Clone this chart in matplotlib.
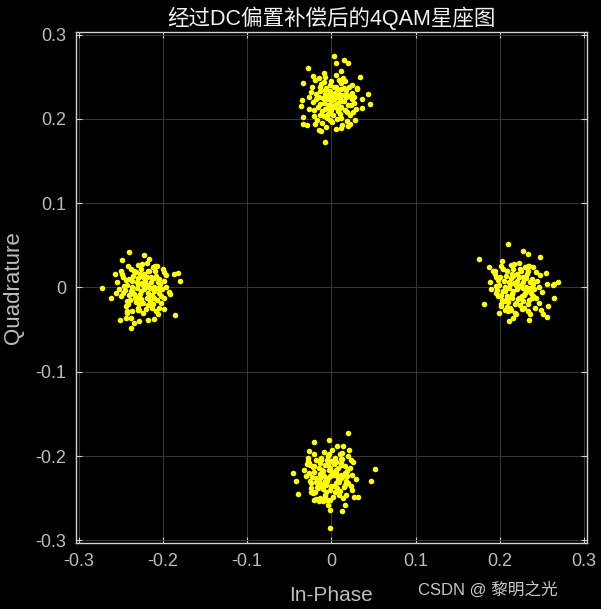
import matplotlib
matplotlib.use("Agg")
import matplotlib.pyplot as plt

# received symbols after DC offset compensation (I, Q)
top_pts = [
    (0.0036, 0.275), (0.005, 0.266), (0.0155, 0.270), (0.020, 0.266), (-0.028, 0.260),
    (-0.022, 0.251), (-0.0087, 0.254), (0.012, 0.257), (0.034, 0.250), (0.043, 0.229),
    (0.046, 0.217), (0.036, 0.223), (0.036, 0.213), (-0.034, 0.243), (-0.035, 0.222),
    (-0.036, 0.215), (-0.033, 0.202), (-0.034, 0.194), (-0.029, 0.193), (-0.015, 0.187),
    (-0.007, 0.173), (0.012, 0.189), (0.0225, 0.194), (0.028, 0.199), (0.031, 0.235),
    (-0.018, 0.230), (-0.012, 0.241), (-0.006, 0.236), (0.000, 0.245), (0.006, 0.238),
    (0.012, 0.243), (0.018, 0.234), (0.024, 0.240), (-0.022, 0.220), (-0.015, 0.226),
    (-0.009, 0.219), (-0.003, 0.228), (0.003, 0.224), (0.009, 0.229), (0.015, 0.221),
    (0.021, 0.227), (0.027, 0.219), (-0.020, 0.210), (-0.014, 0.205), (-0.008, 0.212),
    (-0.002, 0.207), (0.004, 0.214), (0.010, 0.206), (0.016, 0.211), (0.022, 0.204),
    (-0.017, 0.199), (-0.011, 0.195), (-0.005, 0.201), (0.001, 0.196), (0.007, 0.200),
    (0.013, 0.193), (0.019, 0.198), (-0.024, 0.232), (-0.019, 0.246), (-0.007, 0.250),
    (0.005, 0.252), (0.014, 0.249), (0.025, 0.231), (0.029, 0.212), (-0.026, 0.212),
    (-0.013, 0.233), (-0.001, 0.233), (0.011, 0.235), (0.020, 0.216), (-0.004, 0.216),
    (0.008, 0.219), (-0.010, 0.225), (0.017, 0.226), (0.002, 0.204), (-0.006, 0.190),
    (0.000, 0.221), (0.006, 0.226), (-0.003, 0.212), (0.012, 0.214), (-0.016, 0.214),
    (-0.021, 0.203), (0.024, 0.223), (0.003, 0.238), (-0.009, 0.244), (0.009, 0.246),
    (-0.014, 0.238), (0.015, 0.236), (-0.002, 0.199), (0.020, 0.192), (0.005, 0.188),
    (-0.012, 0.186), (0.026, 0.208), (-0.027, 0.226), (0.030, 0.236), (-0.008, 0.229),
    (0.004, 0.231), (0.013, 0.221), (-0.005, 0.224), (0.008, 0.209), (-0.018, 0.223),
    (0.019, 0.208), (0.001, 0.215), (-0.011, 0.209), (0.011, 0.201), (0.023, 0.216),
    (-0.023, 0.238), (-0.001, 0.240), (0.007, 0.235), (0.016, 0.245), (-0.015, 0.248),
    (-0.004, 0.206), (0.010, 0.224), (0.002, 0.228), (-0.007, 0.234), (0.018, 0.229),
    (0.006, 0.218), (-0.002, 0.225), (0.014, 0.228), (-0.009, 0.203), (-0.019, 0.194),
    (0.021, 0.238), (0.000, 0.211), (-0.013, 0.217), (0.009, 0.212), (0.027, 0.226),
]

left_pts = [
    (-0.272, -0.001), (-0.240, 0.042), (-0.222, 0.039), (-0.216, 0.034), (-0.249, 0.032),
    (-0.257, 0.016), (-0.182, 0.017), (-0.180, 0.008), (-0.187, 0.016), (-0.261, -0.012),
    (-0.256, -0.006), (-0.185, -0.033), (-0.192, -0.0075), (-0.251, -0.038), (-0.244, -0.036),
    (-0.238, -0.036), (-0.243, -0.028), (-0.238, -0.048), (-0.2345, -0.042), (-0.2286, -0.040),
    (-0.218, -0.039), (-0.210, -0.0376), (-0.206, -0.032), (-0.198, -0.025), (-0.228, -0.027),
    (-0.240, 0.010), (-0.232, 0.018), (-0.224, 0.012), (-0.216, 0.020), (-0.208, 0.014),
    (-0.200, 0.022), (-0.246, 0.002), (-0.238, -0.004), (-0.230, 0.004), (-0.222, -0.002),
    (-0.214, 0.006), (-0.206, -0.001), (-0.198, 0.008), (-0.250, -0.010), (-0.242, -0.016),
    (-0.234, -0.008), (-0.226, -0.014), (-0.218, -0.006), (-0.210, -0.012), (-0.202, -0.018),
    (-0.244, -0.022), (-0.236, -0.028), (-0.228, -0.020), (-0.220, -0.026), (-0.212, -0.019),
    (-0.204, -0.024), (-0.248, 0.016), (-0.241, 0.025), (-0.229, 0.027), (-0.219, 0.029),
    (-0.207, 0.026), (-0.196, 0.015), (-0.193, -0.005), (-0.252, -0.002), (-0.237, 0.008),
    (-0.225, 0.005), (-0.211, 0.000), (-0.219, 0.013), (-0.233, -0.012), (-0.215, -0.016),
    (-0.226, 0.022), (-0.244, 0.009), (-0.203, 0.004), (-0.209, 0.019), (-0.231, -0.001),
    (-0.221, 0.008), (-0.227, -0.008), (-0.213, -0.009), (-0.239, -0.015), (-0.223, -0.018),
    (-0.205, -0.007), (-0.247, -0.007), (-0.235, 0.014), (-0.217, 0.003), (-0.229, 0.011),
    (-0.199, -0.013), (-0.254, 0.006), (-0.243, -0.030), (-0.224, -0.030), (-0.208, -0.028),
    (-0.212, 0.024), (-0.230, -0.024), (-0.196, 0.000), (-0.250, 0.020), (-0.236, 0.001),
    (-0.218, -0.021), (-0.232, -0.017), (-0.204, 0.010), (-0.222, 0.016), (-0.240, -0.009),
    (-0.214, 0.012), (-0.226, -0.004), (-0.210, -0.004), (-0.234, 0.020), (-0.220, 0.000),
    (-0.245, -0.003), (-0.202, -0.010), (-0.228, -0.012), (-0.216, -0.010), (-0.238, 0.022),
    (-0.206, 0.006), (-0.225, 0.028), (-0.213, -0.024), (-0.241, -0.020), (-0.199, 0.018),
    (-0.231, 0.006), (-0.219, -0.013), (-0.211, 0.011), (-0.236, -0.004), (-0.223, 0.003),
    (-0.247, 0.012), (-0.207, -0.015), (-0.229, -0.027), (-0.217, 0.019), (-0.201, -0.002),
    (-0.243, 0.003), (-0.227, 0.016), (-0.215, -0.001), (-0.233, -0.010), (-0.209, 0.025),
]

right_pts = [
    (0.2096, 0.0514), (0.1756, 0.0333), (0.1807, -0.0194), (0.227, 0.0428), (0.2337, 0.040),
    (0.2476, 0.036), (0.2550, 0.017), (0.269, 0.0063), (0.2645, 0.0044), (0.263, 0.0024),
    (0.2649, -0.0122), (0.257, -0.022), (0.256, -0.035), (0.249, -0.027), (0.251, -0.031),
    (0.235, -0.038), (0.236, -0.031), (0.2115, -0.040), (0.216, -0.036), (0.219, -0.031),
    (0.206, -0.027), (0.208, -0.023), (0.1874, 0.024), (0.1945, 0.019), (0.203, 0.031),
    (0.256, 0.0044),
    (0.200, 0.012), (0.208, 0.020), (0.216, 0.014), (0.224, 0.022), (0.232, 0.016),
    (0.240, 0.024), (0.196, 0.002), (0.204, -0.004), (0.212, 0.004), (0.220, -0.002),
    (0.228, 0.006), (0.236, -0.001), (0.244, 0.008), (0.198, -0.010), (0.206, -0.016),
    (0.214, -0.008), (0.222, -0.014), (0.230, -0.006), (0.238, -0.012), (0.246, -0.018),
    (0.202, -0.022), (0.210, -0.028), (0.218, -0.020), (0.226, -0.026), (0.234, -0.019),
    (0.242, -0.024), (0.194, 0.016), (0.201, 0.025), (0.213, 0.027), (0.223, 0.029),
    (0.235, 0.026), (0.248, 0.015), (0.250, -0.005), (0.190, -0.002), (0.205, 0.008),
    (0.217, 0.005), (0.231, 0.000), (0.223, 0.013), (0.209, -0.012), (0.227, -0.016),
    (0.216, 0.022), (0.198, 0.009), (0.239, 0.004), (0.233, 0.019), (0.211, -0.001),
    (0.221, 0.008), (0.215, -0.008), (0.229, -0.009), (0.203, -0.015), (0.219, -0.018),
    (0.237, -0.007), (0.195, -0.007), (0.207, 0.014), (0.225, 0.003), (0.213, 0.011),
    (0.243, -0.013), (0.188, 0.006), (0.199, -0.030), (0.218, -0.030), (0.234, -0.028),
    (0.230, 0.024), (0.212, -0.024), (0.246, 0.000), (0.192, 0.020), (0.206, 0.001),
    (0.224, -0.021), (0.210, -0.017), (0.238, 0.010), (0.220, 0.016), (0.202, -0.009),
    (0.228, 0.012), (0.216, -0.004), (0.232, -0.004), (0.208, 0.020), (0.222, 0.000),
    (0.197, -0.003), (0.240, -0.010), (0.214, -0.012), (0.226, -0.010), (0.204, 0.022),
    (0.236, 0.006), (0.217, 0.028), (0.229, -0.024), (0.201, -0.020), (0.243, 0.018),
    (0.211, 0.006), (0.223, -0.013), (0.231, 0.011), (0.206, -0.004), (0.219, 0.003),
    (0.195, 0.012), (0.235, -0.015), (0.213, -0.027), (0.225, 0.019), (0.241, -0.002),
    (0.199, 0.003), (0.215, 0.016), (0.227, -0.001), (0.209, -0.010), (0.233, 0.025),
]

bottom_pts = [
    (0.0198, -0.172), (-0.0024, -0.181), (-0.020, -0.183), (0.0067, -0.1885), (0.014, -0.1876),
    (0.0214, -0.1928), (-0.0265, -0.194), (-0.045, -0.2205), (-0.0415, -0.229), (0.052, -0.2153),
    (0.0466, -0.2296), (-0.0395, -0.2447), (-0.024, -0.238), (-0.0245, -0.243), (-0.0186, -0.2506),
    (-0.0142, -0.2538), (-0.0098, -0.253), (-0.0051, -0.2518), (-0.004, -0.2585), (-0.0015, -0.264),
    (0.0127, -0.2648), (0.0166, -0.2577), (0.0317, -0.2482), (0.0265, -0.2479), (-0.001, -0.2854),
    (-0.026, -0.208), (-0.029, -0.209),
    (-0.020, -0.212), (-0.012, -0.204), (-0.004, -0.210), (0.004, -0.202), (0.012, -0.208),
    (0.020, -0.200), (-0.026, -0.220), (-0.018, -0.226), (-0.010, -0.218), (-0.002, -0.224),
    (0.006, -0.216), (0.014, -0.223), (0.022, -0.214), (-0.024, -0.232), (-0.016, -0.238),
    (-0.008, -0.230), (0.000, -0.236), (0.008, -0.228), (0.016, -0.234), (0.024, -0.240),
    (-0.022, -0.244), (-0.014, -0.250), (-0.006, -0.242), (0.002, -0.248), (0.010, -0.241),
    (0.018, -0.246), (-0.028, -0.206), (-0.021, -0.197), (-0.009, -0.195), (0.001, -0.193),
    (0.013, -0.196), (0.026, -0.207), (0.029, -0.227), (-0.030, -0.224), (-0.015, -0.214),
    (-0.003, -0.217), (0.011, -0.222), (0.003, -0.209), (-0.011, -0.234), (0.007, -0.238),
    (-0.004, -0.200), (-0.022, -0.213), (0.019, -0.218), (0.013, -0.203), (-0.009, -0.223),
    (-0.001, -0.214), (-0.005, -0.230), (0.009, -0.231), (-0.017, -0.237), (-0.001, -0.240),
    (0.017, -0.229), (-0.025, -0.229), (-0.013, -0.208), (0.005, -0.219), (-0.007, -0.211),
    (0.023, -0.235), (-0.032, -0.216), (-0.021, -0.252), (-0.002, -0.252), (0.014, -0.250),
    (0.010, -0.198), (-0.008, -0.246), (0.024, -0.222), (-0.028, -0.202), (-0.014, -0.221),
    (0.004, -0.243), (-0.010, -0.239), (0.016, -0.212), (0.000, -0.206), (-0.018, -0.231),
    (0.008, -0.214), (-0.004, -0.226), (0.012, -0.226), (-0.012, -0.202), (0.002, -0.222),
    (-0.023, -0.225), (0.020, -0.232), (-0.006, -0.234), (0.006, -0.232), (-0.018, -0.204),
    (0.016, -0.220), (-0.003, -0.198), (0.009, -0.246), (-0.019, -0.243), (0.023, -0.204),
    (-0.011, -0.216), (0.003, -0.235), (0.011, -0.211), (-0.014, -0.226), (0.001, -0.219),
    (-0.025, -0.210), (0.015, -0.237), (-0.007, -0.249), (0.005, -0.207), (0.019, -0.224),
    (-0.021, -0.219), (-0.005, -0.205), (0.007, -0.223), (-0.013, -0.232), (0.011, -0.203),
]

ticks = [-0.3, -0.2, -0.1, 0, 0.1, 0.2, 0.3]
tick_labels = ["-0.3", "-0.2", "-0.1", "0", "0.1", "0.2", "0.3"]

plt.rcParams['font.family'] = ['Liberation Sans', 'Noto Sans CJK SC', 'DejaVu Sans']

fig = plt.figure(figsize=(6.01, 6.09), dpi=100, facecolor='black')
ax = fig.add_axes([0.1265, 0.1084, 0.8495, 0.8391])
ax.set_facecolor('black')

for pts in [top_pts, left_pts, right_pts, bottom_pts]:
    xs = [p[0] for p in pts]
    ys = [p[1] for p in pts]
    ax.scatter(xs, ys, s=16, c='#ffff00', linewidths=0, zorder=3)

ax.set_xlim(-0.303, 0.303)
ax.set_ylim(-0.303, 0.303)
ax.set_xticks(ticks)
ax.set_xticklabels(tick_labels)
ax.set_yticks(ticks)
ax.set_yticklabels(tick_labels)

frame_col = '#d0d0d0'
label_col = '#bdbdbd'
for sp in ax.spines.values():
    sp.set_color(frame_col)
    sp.set_linewidth(1.0)
ax.tick_params(direction='in', top=True, right=True, length=4, width=0.8,
               color=frame_col, labelcolor=label_col, labelsize=13, pad=7)
ax.grid(True, color='#353535', linewidth=0.8)
ax.set_axisbelow(True)

ax.set_title('经过DC偏置补偿后的4QAM星座图', color='#f2f2f2', fontsize=15.5, pad=5)
ax.set_xlabel('In-Phase', color=label_col, fontsize=15, labelpad=12)
ax.set_ylabel('Quadrature', color=label_col, fontsize=16, labelpad=8)

fig.text(0.696, 0.018, 'CSDN @ 黎明之光 ', color='#c8c8c8', fontsize=12, ha='left', va='bottom')

fig.savefig('out.png', dpi=100, facecolor='black')
